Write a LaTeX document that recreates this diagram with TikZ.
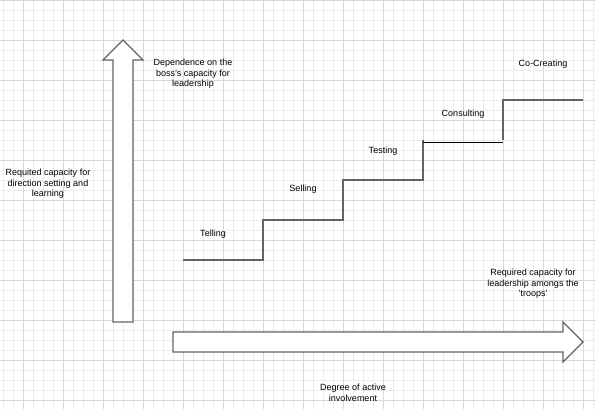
\documentclass[tikz,border=0pt]{standalone}
\usepackage{fontspec}
\setmainfont{Liberation Sans}
\usepackage{tikz}
\usetikzlibrary{positioning}
\definecolor{gridminor}{RGB}{236,236,236}
\definecolor{gridmajor}{RGB}{216,216,216}
\definecolor{edgegray}{RGB}{100,100,100}
\tikzset{
  lbl/.style={align=center, inner sep=0pt, font=\fontsize{9}{10.6}\selectfont},
  bigarrow/.style={draw=edgegray, fill=white, line width=1.3pt, line join=miter},
  stairline/.style={draw=edgegray, line width=1.4pt},
  landing/.style={draw=black, line width=0.9pt}
}

\begin{document}
\begin{tikzpicture}[x=1pt,y=-1pt]
    \useasboundingbox (0,0) rectangle (596,409);
    \fill[white] (0,0) rectangle (596,409);
    % grid
    \foreach \gx in {3,13,...,593} \draw[gridminor, line width=0.8pt] (\gx,0) -- (\gx,409);
    \foreach \gy in {0,10,...,400} \draw[gridminor, line width=0.8pt] (0,\gy) -- (596,\gy);
    \foreach \gx in {23,63,...,583} \draw[gridmajor, line width=0.8pt] (\gx,0) -- (\gx,409);
    \foreach \gy in {0,40,...,400} \draw[gridmajor, line width=0.8pt] (0,\gy) -- (596,\gy);

    % vertical arrow
    \draw[bigarrow] (113,322) -- (113,60) -- (103,60) -- (123,40) -- (143,60) -- (133,60) -- (133,322) -- cycle;
    % horizontal arrow
    \draw[bigarrow] (173,332) -- (563,332) -- (563,322) -- (583,342) -- (563,362) -- (563,352) -- (173,352) -- cycle;

    % stairs
    \coordinate (s0) at (183,260);
    \coordinate (s1) at (263,260);
    \coordinate (s2) at (343,220);
    \coordinate (s3) at (423,180);
    \coordinate (s4) at (503,142);
    \draw[stairline] (s0) -- (s1) |- (s2) |- (s3) -- (423,140);
    \draw[landing] (423,142) -- (s4);
    \draw[stairline] (503,140) -- (503,100) -- (583,100);

    \node[lbl] (boss) at (193,74) {Dependence on the\\boss's capacity for\\leadership};
    \node[lbl] (direction) at (48,184) {Requited capacity for\\direction setting and\\learning};
    \node[lbl] (telling) at (213,234) {Telling};
    \node[lbl] (selling) at (303,189) {Selling};
    \node[lbl] (testing) at (383,151) {Testing};
    \node[lbl] (consulting) at (463,114) {Consulting};
    \node[lbl] (cocreating) at (543,64) {Co-Creating};
    \node[lbl] (troops) at (533,284) {Required capacity for\\leadership amongs the\\'troops'};
    \node[lbl] (involvement) at (353,393) {Degree of active\\involvement};
  \end{tikzpicture}
\end{document}
